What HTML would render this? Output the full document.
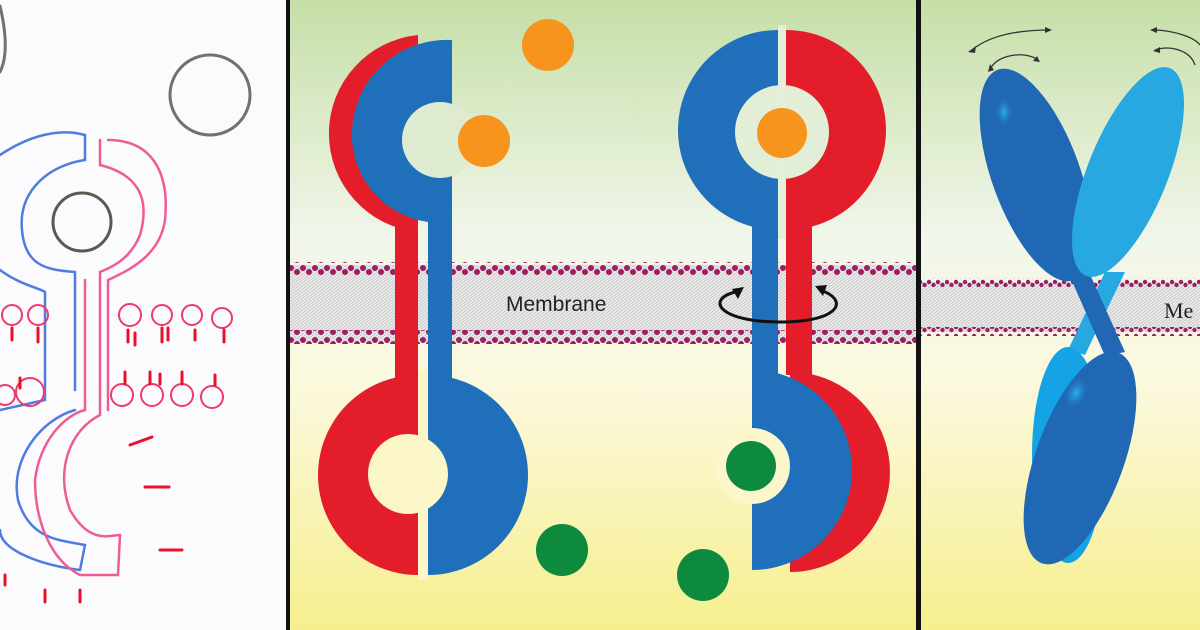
<!DOCTYPE html>
<html><head><meta charset="utf-8"><style>
html,body{margin:0;padding:0;width:1200px;height:630px;overflow:hidden;background:#fff}
svg{display:block}
</style></head><body>
<svg width="1200" height="630" viewBox="0 0 1200 630" xmlns="http://www.w3.org/2000/svg">
<defs>
<linearGradient id="bg" x1="0" y1="0" x2="0" y2="1">
<stop offset="0" stop-color="#c6dfa8"/>
<stop offset="0.38" stop-color="#f1f6ea"/>
<stop offset="0.6" stop-color="#fbf9df"/>
<stop offset="1" stop-color="#f6ef8e"/>
</linearGradient>
<pattern id="mem" width="8" height="6" patternUnits="userSpaceOnUse">
<rect width="8" height="6" fill="#ececec"/>
<path d="M0 3 L4 0 M4 6 L8 3 M0 6 L8 0" stroke="#c8c8c8" stroke-width="1"/>
</pattern>
<pattern id="dots" width="12" height="12" patternUnits="userSpaceOnUse">
<circle cx="3" cy="4" r="3" fill="#9c1f63"/><circle cx="9" cy="8" r="3" fill="#9c1f63"/>
</pattern>
<pattern id="dots2" width="9" height="9" patternUnits="userSpaceOnUse">
<circle cx="2" cy="3" r="2.2" fill="#9c1f63"/><circle cx="6.5" cy="6" r="2.2" fill="#9c1f63"/>
</pattern>
<radialGradient id="hl"><stop offset="0" stop-color="#27b6f0"/><stop offset="1" stop-color="#2568b6" stop-opacity="0"/></radialGradient>
</defs>

<!-- left panel sketch -->
<rect x="0" y="0" width="288" height="630" fill="#fbfbfd"/>
<g fill="none" stroke-linecap="round">
<circle cx="210" cy="95" r="40" stroke="#77706a" stroke-width="3"/>
<circle cx="82" cy="222" r="29" stroke="#5e5852" stroke-width="3"/>
<path d="M0 6 C8 40 6 60 0 72" stroke="#77706a" stroke-width="3"/>
<path d="M0 155 C30 135 60 128 85 135 L85 160 C50 165 18 190 22 230 C25 265 45 270 75 272 L75 285 L75 390" stroke="#4d7de0" stroke-width="2.5"/>
<path d="M0 270 C20 285 40 288 45 292 L45 400 L0 410" stroke="#4d7de0" stroke-width="2.5"/>
<path d="M75 410 C40 420 10 460 18 500 C30 540 60 540 85 545 L80 570 C40 565 0 550 0 530" stroke="#4d7de0" stroke-width="2.5"/>
<path d="M100 140 L100 165 C140 175 150 200 140 235 C130 260 110 268 100 272 L100 415 C70 430 55 470 70 510 C90 545 110 535 120 535 L118 575 L80 575 C50 560 35 520 35 480 C40 440 65 415 85 410 L85 280" stroke="#ee5d92" stroke-width="2.5"/>
<path d="M108 140 C150 140 170 170 165 220 C160 255 130 270 108 280 L108 410" stroke="#ee5d92" stroke-width="2.5"/>
</g>
<g fill="none" stroke="#ee3a6a" stroke-width="2">
<circle cx="130" cy="315" r="11"/><circle cx="162" cy="315" r="10"/><circle cx="192" cy="315" r="10"/><circle cx="222" cy="318" r="10"/>
<circle cx="12" cy="315" r="10"/><circle cx="38" cy="315" r="10"/>
<circle cx="122" cy="395" r="11"/><circle cx="152" cy="395" r="11"/><circle cx="182" cy="395" r="11"/><circle cx="212" cy="397" r="11"/>
<circle cx="30" cy="392" r="14"/><circle cx="5" cy="395" r="10"/>
</g>
<g stroke="#e8102a" stroke-width="3" stroke-linecap="round">
<path d="M128 330v12M135 333v12M162 328v14M168 328v12M195 330v10M224 330v12M12 328v12M38 328v14"/>
<path d="M125 372v12M150 372v12M160 374v10M182 372v12M215 375v10M20 378v10"/>
<path d="M130 445l22-8M145 487h24M160 550h22M5 575v10M45 590v12M80 590v12"/>
</g>
<rect x="286" y="0" width="4" height="630" fill="#111"/>

<!-- middle panel -->
<rect x="290" y="0" width="628" height="630" fill="url(#bg)"/>
<rect x="290" y="265" width="628" height="76" fill="url(#mem)"/>
<rect x="290" y="262" width="628" height="14" fill="url(#dots)"/>
<rect x="290" y="330" width="628" height="14" fill="url(#dots)"/>
<text x="506" y="311" font-family="Liberation Sans, sans-serif" font-size="21" fill="#222">Membrane</text>

<!-- left protein -->
<path d="M418 35 A99 99 0 0 0 418 232 Z" fill="#e41d2a"/>
<rect x="395" y="220" width="23" height="165" fill="#e41d2a"/>
<path d="M418 375 A100 100 0 0 0 418 575 Z" fill="#e41d2a"/>
<path d="M452 40 A95 95 0 0 0 352 130 A88 88 0 0 0 428 222 L452 222 Z" fill="#1f6fba"/>
<circle cx="440" cy="140" r="38" fill="#dfebd0"/>
<rect x="428" y="215" width="24" height="170" fill="#1f6fba"/>
<path d="M428 375 A100 100 0 0 1 428 575 Z" fill="#1f6fba"/>
<circle cx="408" cy="474" r="40" fill="#fbf6c8"/>
<rect x="418" y="370" width="10" height="210" fill="#fbf6c8"/>

<!-- right protein -->
<path d="M778 30 A100 100 0 0 0 778 230 Z" fill="#1f6fba"/>
<path d="M786 30 A100 100 0 0 1 786 230 Z" fill="#e41d2a"/>
<circle cx="782" cy="132" r="47" fill="#e2eed6"/>
<rect x="778" y="25" width="8" height="214" fill="#e4eed8"/>
<rect x="752" y="225" width="26" height="160" fill="#1f6fba"/>
<rect x="786" y="225" width="26" height="150" fill="#e41d2a"/>
<path d="M790 372 A100 100 0 0 1 790 572 Z" fill="#e41d2a"/>
<path d="M752 370 A100 100 0 0 1 752 570 Z" fill="#1f6fba"/>
<circle cx="752" cy="466" r="38" fill="#fbf6cc"/>

<path d="M735 292 C705 300 720 322 780 322 C840 322 850 300 820 290" fill="none" stroke="#111" stroke-width="3"/>
<path d="M744 287 l-12 2 6 10z M815 286 l12 -1 -4 11z" fill="#111"/>

<circle cx="548" cy="45" r="26" fill="#f7941d"/>
<circle cx="484" cy="141" r="26" fill="#f7941d"/>
<circle cx="782" cy="133" r="25" fill="#f7941d"/>
<circle cx="562" cy="550" r="26" fill="#0e8a3e"/>
<circle cx="751" cy="466" r="25" fill="#0e8a3e"/>
<circle cx="703" cy="575" r="26" fill="#0e8a3e"/>

<rect x="916" y="0" width="5" height="630" fill="#111"/>

<!-- right panel -->
<rect x="921" y="0" width="279" height="630" fill="url(#bg)"/>
<rect x="921" y="282" width="279" height="50" fill="url(#mem)"/>
<rect x="921" y="278" width="279" height="9" fill="url(#dots2)"/>
<rect x="921" y="327" width="279" height="9" fill="url(#dots2)"/>
<text x="1164" y="318" font-family="Liberation Serif, serif" font-size="22" fill="#222">Me</text>
<path d="M1105 272 L1125 272 L1085 355 L1068 350Z" fill="#27a8e0"/>
<path d="M1068 272 L1088 270 L1125 352 L1105 356Z" fill="#2068b4"/>
<ellipse cx="1036" cy="175" rx="44" ry="112" transform="rotate(-20 1036 175)" fill="#2068b4"/>
<ellipse cx="1128" cy="172" rx="40" ry="112" transform="rotate(22 1128 172)" fill="#27a8e0"/>
<ellipse cx="1068" cy="455" rx="36" ry="108" fill="#14a3e4"/>
<ellipse cx="1080" cy="458" rx="44" ry="112" transform="rotate(20 1080 458)" fill="#2068b4"/>
<ellipse cx="1004" cy="112" rx="9" ry="16" fill="url(#hl)"/>
<ellipse cx="1076" cy="393" rx="12" ry="18" transform="rotate(25 1076 393)" fill="url(#hl)"/>
<g fill="none" stroke="#333" stroke-width="1.3">
<path d="M972 50 C990 35 1020 30 1050 30"/><path d="M990 70 C995 55 1025 50 1038 60"/>
<path d="M1152 30 C1175 30 1195 38 1200 45"/><path d="M1155 50 C1170 45 1190 50 1195 65"/>
</g>
<g fill="#333"><path d="M968 52l8-6 -1 7z M1052 30l-7-3 0 6z M988 72l2-8 4 6z M1040 62l-7-1 4-5z M1150 30l7-3 0 6z M1153 51l7-4 0 6z"/></g>
</svg>
</body></html>
